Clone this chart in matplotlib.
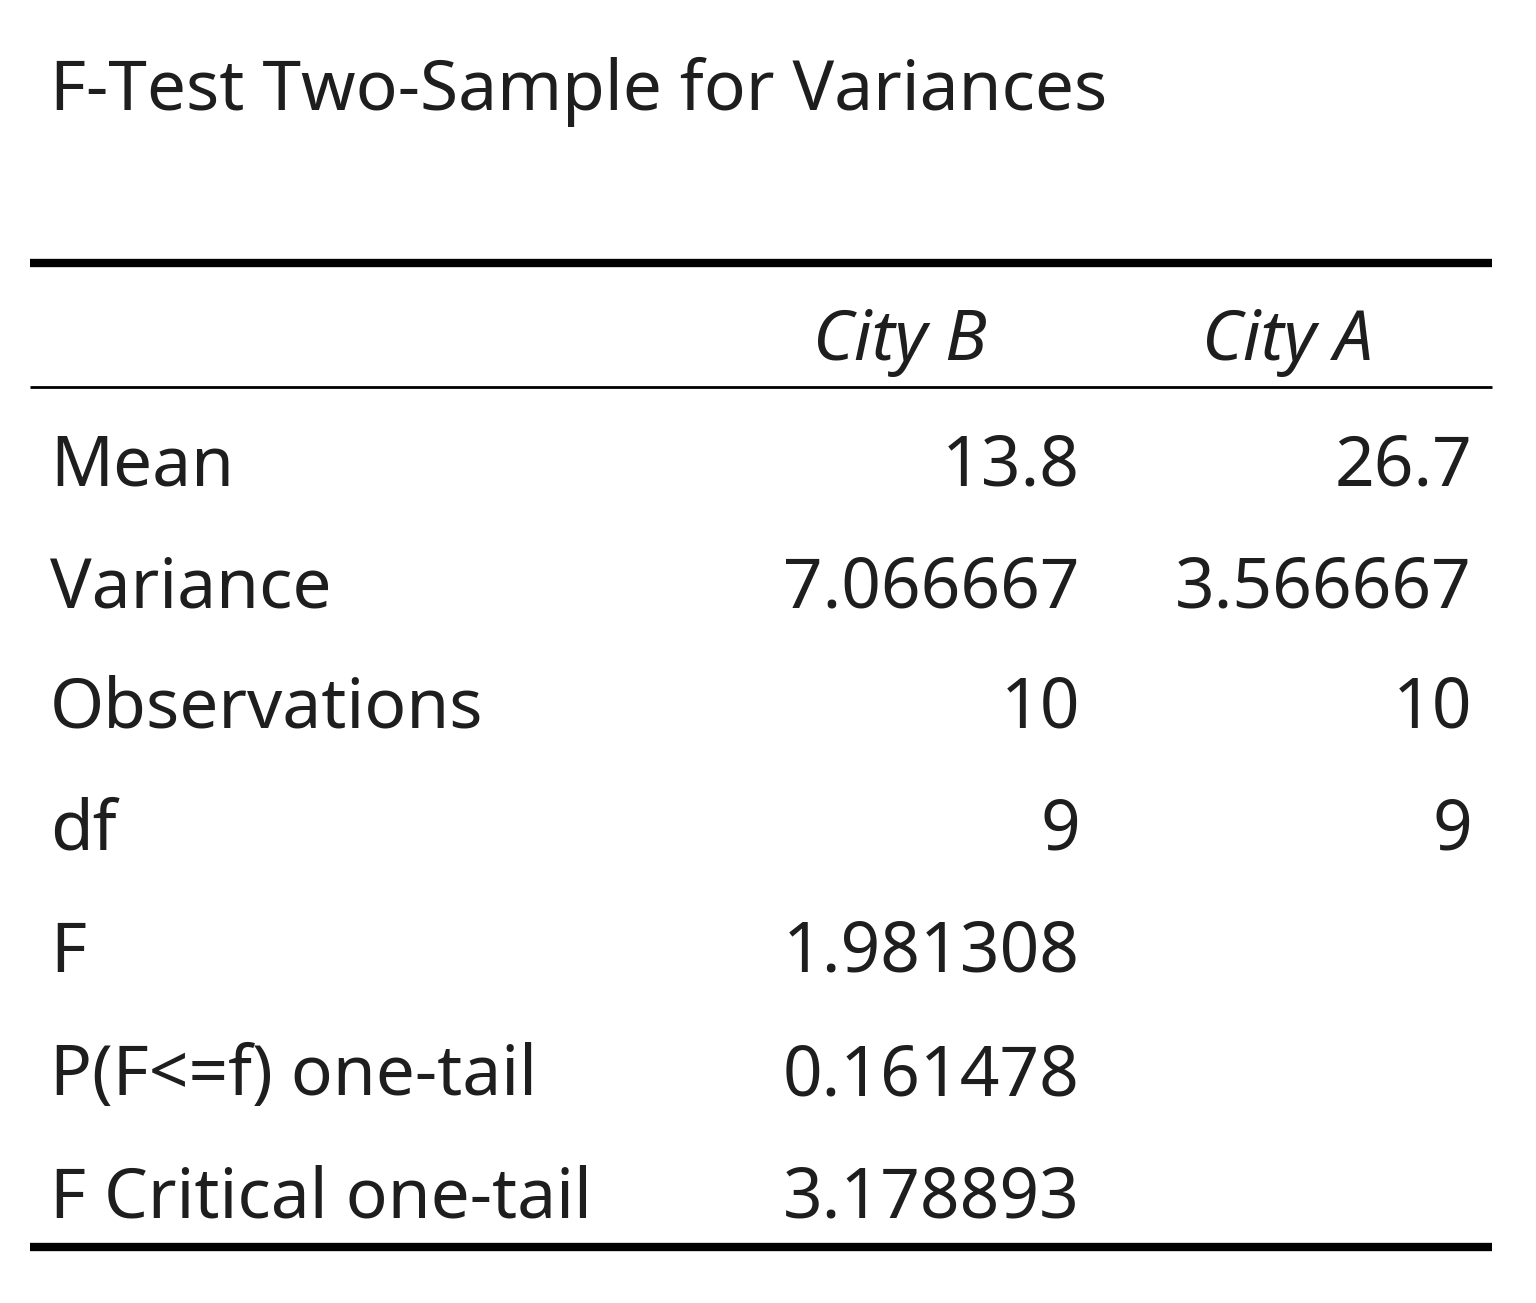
import matplotlib
matplotlib.use("Agg")
import matplotlib.pyplot as plt

title = "F-Test Two-Sample for Variances"
columns = ["City B", "City A"]
row_labels = ["Mean", "Variance", "Observations", "df", "F", "P(F<=f) one-tail", "F Critical one-tail"]
city_b = ["13.8", "7.066667", "10", "9", "1.981308", "0.161478", "3.178893"]
city_a = ["26.7", "3.566667", "10", "9", "", "", ""]

W, H = 1536, 1303
fig = plt.figure(figsize=(W/100, H/100), dpi=100)
ax = fig.add_axes([0, 0, 1, 1])
ax.set_xlim(0, W); ax.set_ylim(H, 0); ax.axis("off")
fam = ["Noto Sans", "DejaVu Sans"]
col = "#1e1e1e"
fs = 50

ax.text(50, 110, title, fontsize=fs, family=fam, color=col, va="baseline", ha="left")
ax.plot([30, 1492], [263, 263], color="black", lw=6, solid_capstyle="butt")
ax.plot([30, 1492], [387, 387], color="black", lw=2, solid_capstyle="butt")
ax.plot([30, 1492], [1247, 1247], color="black", lw=6, solid_capstyle="butt")
for x, c in zip([900, 1288], columns):
    ax.text(x, 360, c, fontsize=fs, family=fam, style="italic", color=col, va="baseline", ha="center")
ys = [485, 607, 728, 850, 972, 1095, 1217]
for y, lab, b, a in zip(ys, row_labels, city_b, city_a):
    ax.text(50, y, lab, fontsize=fs, family=fam, color=col, va="baseline", ha="left")
    ax.text(1080, y, b, fontsize=fs, family=fam, color=col, va="baseline", ha="right")
    ax.text(1472, y, a, fontsize=fs, family=fam, color=col, va="baseline", ha="right")
fig.savefig("out.png", dpi=100, facecolor="white")
